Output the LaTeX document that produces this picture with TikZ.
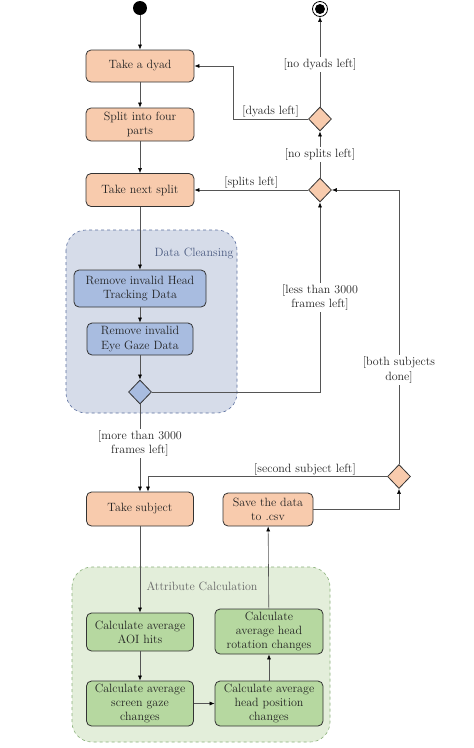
\documentclass[tikz,border=0pt]{standalone}
\usetikzlibrary{shapes.geometric,arrows.meta}
\definecolor{peach}{HTML}{F8CBAD}
\definecolor{bluebox}{HTML}{A8BCE0}
\definecolor{bluebg}{HTML}{D6DCE9}
\definecolor{blueln}{HTML}{5A6E9E}
\definecolor{bluetxt}{HTML}{4A5A80}
\definecolor{greenbox}{HTML}{B6D8A0}
\definecolor{greenbg}{HTML}{E3EEDA}
\definecolor{greenln}{HTML}{8AB07A}
\definecolor{lncol}{HTML}{555555}
\definecolor{txtcol}{HTML}{222222}
\begin{document}
\begin{tikzpicture}[x=1pt,y=-1pt,
  every node/.style={font=\fontsize{12}{14.2}\selectfont, text=txtcol},
  act/.style={draw=black!80, line width=0.8pt, rounded corners=5pt, align=center, inner sep=1pt},
  orangebox/.style={act, fill=peach},
  bluenode/.style={act, fill=bluebox},
  greennode/.style={act, fill=greenbox},
  dec/.style={diamond, draw=black!80, line width=0.8pt, inner sep=0pt, minimum width=23pt, minimum height=24pt},
  flow/.style={draw=lncol, line width=0.6pt, -{Latex[length=5pt,width=4pt,color=black]}},
  lbl/.style={fill=white, inner sep=1.5pt, align=center},
  container/.style={rounded corners=20pt, dashed, line width=0.6pt}
]
\useasboundingbox (0,0) rectangle (474,748);
% containers
\draw[container, draw=blueln, fill=bluebg] (66,230) rectangle (237,413);
\node[text=bluetxt] (dclbl) at (194,253) {Data Cleansing};
\draw[container, draw=greenln, fill=greenbg] (72,567) rectangle (330,742);
\node[text=black!60] (aclbl) at (202,586) {Attribute Calculation};

% start / end
\node[circle, fill=black, inner sep=0pt, minimum size=14pt] (start) at (140,8) {};
\node[circle, draw=black, line width=0.8pt, fill=white, inner sep=0pt, minimum size=15pt] (endo) at (320,9) {};
\node[circle, fill=black, inner sep=0pt, minimum size=10pt] (end) at (320,9) {};

% nodes
\node[orangebox, minimum width=108pt, minimum height=32pt] (dyad) at (140,66) {Take a dyad};
\node[orangebox, minimum width=108pt, minimum height=33pt] (split) at (140,124.5) {Split into four\\parts};
\node[orangebox, minimum width=108pt, minimum height=33pt] (next) at (140,190) {Take next split};
\node[bluenode, minimum width=132pt, minimum height=37pt] (head) at (140,288.5) {Remove invalid Head\\Tracking Data};
\node[bluenode, minimum width=106pt, minimum height=32pt] (eye) at (140,339) {Remove invalid\\Eye Gaze Data};
\node[dec, fill=bluebox] (dc) at (140,392) {};
\node[orangebox, minimum width=107pt, minimum height=34pt] (subject) at (140,509) {Take subject};
\node[orangebox, minimum width=90pt, minimum height=33pt] (save) at (268,509.5) {Save the data\\to .csv};
\node[greennode, minimum width=107pt, minimum height=38pt] (aoi) at (140,632) {Calculate average\\AOI hits};
\node[greennode, minimum width=107pt, minimum height=45pt] (gaze) at (140,703.5) {Calculate average\\screen gaze\\changes};
\node[greennode, minimum width=108pt, minimum height=45pt] (pos) at (269,703.5) {Calculate average\\head position\\changes};
\node[greennode, minimum width=108pt, minimum height=45pt] (rot) at (269,631.5) {Calculate\\average head\\rotation changes};
\node[dec, fill=peach] (d1) at (320,119) {};
\node[dec, fill=peach] (d2) at (320,190) {};
\node[dec, fill=peach] (d3) at (399,476.5) {};

% flows
\draw[flow] (start) -- (dyad);
\draw[flow] (dyad) -- (split);
\draw[flow] (split) -- (next);
\draw[flow] (next) -- (head);
\draw[flow] (head) -- (eye);
\draw[flow] (eye) -- (dc);
\draw[flow] (dc) -- node[lbl, pos=0.45] {[more than 3000\\frames left]} (subject);
\draw[flow] (d1) -- node[lbl, pos=0.47] {[no dyads left]} (endo);
\draw[flow] (d2) -- node[lbl] {[no splits left]} (d1);
\coordinate (c1) at (233,119);
\coordinate (c2) at (233,66);
\draw[flow] (d1.west) -- node[above=-1pt, inner sep=2pt] {[dyads left]} (c1) -- (c2) -- (dyad.east);
\draw[flow] (d2.west) -- node[above=-1pt, inner sep=2pt] {[splits left]} (next.east);
\coordinate (c3) at (320,392);
\draw[flow] (dc.east) -- (c3) -- node[lbl] {[less than 3000\\frames left]} (d2.south);
\coordinate (c4) at (399,190);
\draw[flow] (d3.north) -- (c4) -- (d2.east);
\node[lbl] (bothlbl) at (399,370) {[both subjects\\done]};
\draw[flow] (save.east) -| (d3.south);
\coordinate (c5) at (148,476.5);
\draw[flow] (d3.west) -- (c5) -- (subject.north -| c5);
\node[above=-1pt, inner sep=2pt] (seclbl) at (305,476.5) {[second subject left]};
\draw[flow] (subject) -- (aoi);
\draw[flow] (aoi) -- (gaze);
\draw[flow] (gaze) -- (pos);
\draw[flow] (pos) -- (rot);
\draw[flow] (rot) -- (save);
\end{tikzpicture}
\end{document}
